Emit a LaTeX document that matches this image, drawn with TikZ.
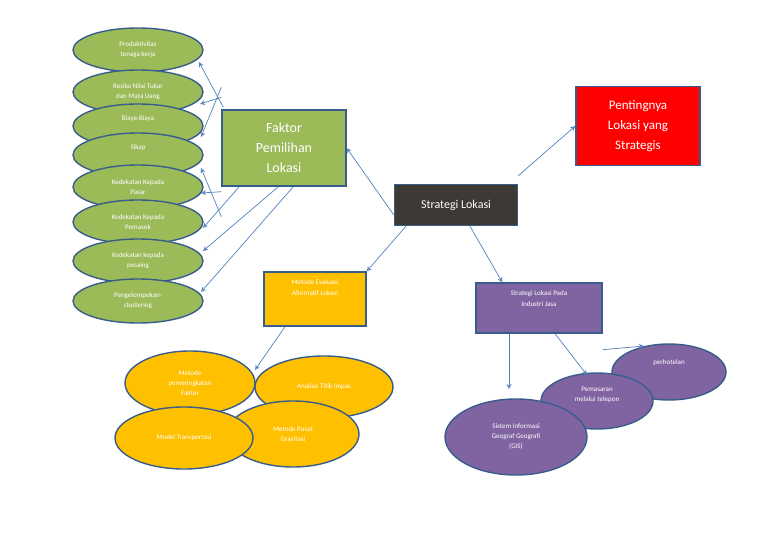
\documentclass[tikz,border=0pt]{standalone}
\usepackage{fontspec}
\setmainfont{Carlito}
\usetikzlibrary{shapes.geometric,arrows.meta}
\definecolor{edge}{HTML}{385D8A}
\definecolor{arr}{HTML}{4F81BD}
\definecolor{grn}{HTML}{9BBB59}
\definecolor{org}{HTML}{FFC000}
\definecolor{pur}{HTML}{8064A2}
\begin{document}
\begin{tikzpicture}[x=1pt,y=-1pt,
  el/.style={ellipse,draw=edge,line width=1.4pt,text=white,align=center,inner sep=0pt,font=\fontsize{7}{10}\selectfont},
  bx/.style={rectangle,draw=edge,line width=1.4pt,align=center,inner sep=0pt},
  ar/.style={draw=arr,line width=0.7pt,-{Stealth[open,length=5pt,width=5pt]}}]
\useasboundingbox (0,0) rectangle (768,543);
% green
\foreach \n/\y/\t in {g1/50/{Produktivitas\\tenaga  kerja},g2/92/{Resiko Nilai Tukar\\dan Mata Uang},g3/126/{Biaya-Biaya\\[6pt]},g4/155/{Sikap\\[6pt]},g5/187/{Kedekatan Kepada\\Pasar},g6/222/{Kedekatan Kepada\\Pemasok},g7/261/{Kedekatan kepada\\pesaing},g8/301/{Pengelompokan-\\clustering}}
  \node[el,fill=grn,minimum width=130,minimum height=44] (\n) at (138,\y) {\t};
\node[bx,fill=grn,text=white,minimum width=124,minimum height=76,font=\fontsize{14}{20}\selectfont] (fk) at (284,148) {Faktor\\Pemilihan\\Lokasi};
\node[bx,fill=black!88!yellow,text=white,minimum width=123,minimum height=41,font=\fontsize{12}{15}\selectfont] (sl) at (456,205) {Strategi Lokasi};
\node[bx,fill=red,text=white,minimum width=124,minimum height=79,font=\fontsize{13}{20}\selectfont] (pl) at (638,126) {Pentingnya\\Lokasi yang\\Strategis};
\node[bx,fill=org,text=white,minimum width=102,minimum height=54,font=\fontsize{7}{11}\selectfont] (me) at (315,299) {Metode Evaluasi\\Alternatif Lokasi\\[12pt]};
\node[bx,fill=pur,text=white,minimum width=126,minimum height=50,font=\fontsize{7}{11}\selectfont] (sj) at (539,308) {Strategi Lokasi Pada\\Industri Jasa\\[8pt]};
% orange
\node[el,fill=org,minimum width=130,minimum height=64] (o1) at (190,383) {Metode\\pemeringkatan\\Faktor};
\node[el,fill=org,minimum width=138,minimum height=62] (o2) at (324,387) {Analisis Titik Impas};
\node[el,fill=org,minimum width=132,minimum height=66] (o4) at (293,434) {Metode Pusat\\Gravitasi};
\node[el,fill=org,minimum width=138,minimum height=62] (o3) at (184,438) {Model Transportasi};
% purple
\node[el,fill=pur,minimum width=114,minimum height=56] (p1) at (669,372) {perhotelan\\[10pt]};
\node[el,fill=pur,minimum width=112,minimum height=56] (p2) at (597,401) {Pemasaran\\melalui telepon\\[4pt]};
\node[el,fill=pur,minimum width=142,minimum height=76] (p3) at (516,437) {Sistem Informasi\\Geograf Geografi\\(GIS)};
% arrows
\draw[ar] ([yshift=-10]sl.west) -- (fk.east);
\draw[ar] ([yshift=8]sl.north east) -- (pl.west);
\draw[ar] ([xshift=-50]sl.south) -- (me.north east);
\draw[ar] ([xshift=14]sl.south) -- ([xshift=27]sj.north west);
\draw[ar] ([xshift=2,yshift=2]fk.north west) -- (199,62);
\draw[ar] ([yshift=12]fk.north west) -- (200,104);
\draw[ar] ([yshift=22]fk.north west) -- (201,137);
\draw[ar] ([yshift=-30]fk.south west) -- (201,168);
\draw[ar] ([yshift=-5]fk.south west) -- (201,193);
\draw[ar] ([xshift=18]fk.south west) -- (203,228);
\draw[ar] ([xshift=57]fk.south west) -- (203,251);
\draw[ar] ([xshift=72]fk.south west) -- (201,292);
\draw[ar] ([xshift=-30]me.south) -- (255,370);
\draw[ar] ([yshift=-16]sj.south east) -- (644,346);
\draw[ar] ([xshift=16]sj.south) -- (587,375);
\draw[ar] ([xshift=-30]sj.south) -- (509,389);
\end{tikzpicture}
\end{document}
